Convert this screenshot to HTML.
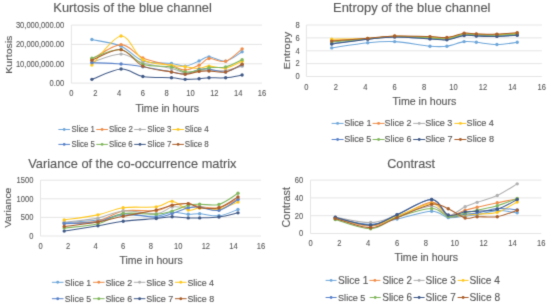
<!DOCTYPE html>
<html><head><meta charset="utf-8"><title>Charts</title>
<style>
html,body{margin:0;padding:0;background:#fff;}
body{width:550px;height:307px;overflow:hidden;}
svg{display:block;}
svg text{font-family:'Liberation Sans', Arial, sans-serif;fill:#595959;stroke:#595959;stroke-width:0.14px;}
svg text.tk{stroke-width:0.1px;}
</style></head><body>
<svg width="550" height="307" viewBox="0 0 550 307">
<defs><filter id="bl" x="0" y="0" width="550" height="307" filterUnits="userSpaceOnUse" color-interpolation-filters="sRGB"><feConvolveMatrix order="3" kernelMatrix="0.0144 0.0912 0.0144 0.0912 0.5776 0.0912 0.0144 0.0912 0.0144" edgeMode="duplicate"/></filter></defs>
<g filter="url(#bl)">
<rect width="550" height="307" fill="#fff"/>
<line x1="71.4" y1="83.1" x2="262" y2="83.1" stroke="#E2E2E2" stroke-width="0.9"/>
<line x1="71.4" y1="63.77" x2="262" y2="63.77" stroke="#E2E2E2" stroke-width="0.9"/>
<line x1="71.4" y1="44.43" x2="262" y2="44.43" stroke="#E2E2E2" stroke-width="0.9"/>
<line x1="71.4" y1="25.1" x2="262" y2="25.1" stroke="#E2E2E2" stroke-width="0.9"/>
<line x1="71.4" y1="25.1" x2="71.4" y2="83.1" stroke="#E2E2E2" stroke-width="0.9"/>
<text x="64.2" y="85.9" font-size="8.4" text-anchor="end" textLength="14.72" lengthAdjust="spacingAndGlyphs" class="tk">0.00</text>
<text x="64.2" y="66.57" font-size="8.4" text-anchor="end" textLength="48.31" lengthAdjust="spacingAndGlyphs" class="tk">10,000,000.00</text>
<text x="64.2" y="47.23" font-size="8.4" text-anchor="end" textLength="48.31" lengthAdjust="spacingAndGlyphs" class="tk">20,000,000.00</text>
<text x="64.2" y="27.9" font-size="8.4" text-anchor="end" textLength="48.31" lengthAdjust="spacingAndGlyphs" class="tk">30,000,000.00</text>
<text x="71.4" y="96.3" font-size="8.4" text-anchor="middle" textLength="4.21" lengthAdjust="spacingAndGlyphs" class="tk">0</text>
<text x="95.23" y="96.3" font-size="8.4" text-anchor="middle" textLength="4.21" lengthAdjust="spacingAndGlyphs" class="tk">2</text>
<text x="119.05" y="96.3" font-size="8.4" text-anchor="middle" textLength="4.21" lengthAdjust="spacingAndGlyphs" class="tk">4</text>
<text x="142.88" y="96.3" font-size="8.4" text-anchor="middle" textLength="4.21" lengthAdjust="spacingAndGlyphs" class="tk">6</text>
<text x="166.7" y="96.3" font-size="8.4" text-anchor="middle" textLength="4.21" lengthAdjust="spacingAndGlyphs" class="tk">8</text>
<text x="190.53" y="96.3" font-size="8.4" text-anchor="middle" textLength="8.41" lengthAdjust="spacingAndGlyphs" class="tk">10</text>
<text x="214.35" y="96.3" font-size="8.4" text-anchor="middle" textLength="8.41" lengthAdjust="spacingAndGlyphs" class="tk">12</text>
<text x="238.18" y="96.3" font-size="8.4" text-anchor="middle" textLength="8.41" lengthAdjust="spacingAndGlyphs" class="tk">14</text>
<text x="262" y="96.3" font-size="8.4" text-anchor="middle" textLength="8.41" lengthAdjust="spacingAndGlyphs" class="tk">16</text>
<text x="53.35" y="12" font-size="11.92" textLength="158.51" lengthAdjust="spacingAndGlyphs">Kurtosis of the blue channel</text>
<text x="135.46" y="111.6" font-size="10.61" textLength="63.52" lengthAdjust="spacingAndGlyphs">Time in hours</text>
<text transform="translate(11.6,73.66) rotate(-90)" font-size="9.88" textLength="38.04" lengthAdjust="spacingAndGlyphs">Kurtosis</text>
<path d="M91.89,39.56 C96.75,40.66 112.58,42.6 121.08,46.15 C129.57,49.71 134.48,58.03 142.88,60.91 C151.27,63.78 164.42,62.55 171.47,63.42 C178.51,64.29 180.56,66.56 185.16,66.14 C189.77,65.73 195.13,62.46 199.1,60.91 C203.07,59.35 204.56,56.79 208.99,56.83 C213.42,56.86 220.15,61.94 225.67,61.1 C231.19,60.26 239.37,53.33 242.11,51.78" fill="none" stroke="#6FA7DA" stroke-width="1.05" stroke-linejoin="round"/>
<circle cx="91.89" cy="39.56" r="1.7" fill="#6FA7DA"/>
<circle cx="121.08" cy="46.15" r="1.7" fill="#6FA7DA"/>
<circle cx="142.88" cy="60.91" r="1.7" fill="#6FA7DA"/>
<circle cx="171.47" cy="63.42" r="1.7" fill="#6FA7DA"/>
<circle cx="185.16" cy="66.14" r="1.7" fill="#6FA7DA"/>
<circle cx="199.1" cy="60.91" r="1.7" fill="#6FA7DA"/>
<circle cx="208.99" cy="56.83" r="1.7" fill="#6FA7DA"/>
<circle cx="225.67" cy="61.1" r="1.7" fill="#6FA7DA"/>
<circle cx="242.11" cy="51.78" r="1.7" fill="#6FA7DA"/>
<path d="M91.89,59.15 C96.75,56.72 112.58,44.8 121.08,44.61 C129.57,44.41 134.48,54.5 142.88,57.99 C151.27,61.48 164.42,63.54 171.47,65.55 C178.51,67.55 180.56,70.08 185.16,70.01 C189.77,69.95 195.13,67.07 199.1,65.16 C203.07,63.25 204.56,59.21 208.99,58.57 C213.42,57.92 220.15,62.91 225.67,61.29 C231.19,59.67 239.37,50.93 242.11,48.86" fill="none" stroke="#EF8D4A" stroke-width="1.05" stroke-linejoin="round"/>
<circle cx="91.89" cy="59.15" r="1.7" fill="#EF8D4A"/>
<circle cx="121.08" cy="44.61" r="1.7" fill="#EF8D4A"/>
<circle cx="142.88" cy="57.99" r="1.7" fill="#EF8D4A"/>
<circle cx="171.47" cy="65.55" r="1.7" fill="#EF8D4A"/>
<circle cx="185.16" cy="70.01" r="1.7" fill="#EF8D4A"/>
<circle cx="199.1" cy="65.16" r="1.7" fill="#EF8D4A"/>
<circle cx="208.99" cy="58.57" r="1.7" fill="#EF8D4A"/>
<circle cx="225.67" cy="61.29" r="1.7" fill="#EF8D4A"/>
<circle cx="242.11" cy="48.86" r="1.7" fill="#EF8D4A"/>
<path d="M91.89,62.26 C96.75,60.9 112.58,53.97 121.08,54.1 C129.57,54.23 134.48,60.64 142.88,63.03 C151.27,65.43 164.42,66.81 171.47,68.46 C178.51,70.11 180.56,72.61 185.16,72.93 C189.77,73.25 195.13,70.82 199.1,70.4 C203.07,69.98 204.56,70.4 208.99,70.4 C213.42,70.4 220.15,71.11 225.67,70.4 C231.19,69.69 239.37,66.85 242.11,66.14" fill="none" stroke="#B0B0B0" stroke-width="1.05" stroke-linejoin="round"/>
<circle cx="91.89" cy="62.26" r="1.7" fill="#B0B0B0"/>
<circle cx="121.08" cy="54.1" r="1.7" fill="#B0B0B0"/>
<circle cx="142.88" cy="63.03" r="1.7" fill="#B0B0B0"/>
<circle cx="171.47" cy="68.46" r="1.7" fill="#B0B0B0"/>
<circle cx="185.16" cy="72.93" r="1.7" fill="#B0B0B0"/>
<circle cx="199.1" cy="70.4" r="1.7" fill="#B0B0B0"/>
<circle cx="208.99" cy="70.4" r="1.7" fill="#B0B0B0"/>
<circle cx="225.67" cy="70.4" r="1.7" fill="#B0B0B0"/>
<circle cx="242.11" cy="66.14" r="1.7" fill="#B0B0B0"/>
<path d="M91.89,64.97 C96.75,60.15 112.58,36.94 121.08,36.06 C129.57,35.19 134.48,54.88 142.88,59.73 C151.27,64.58 164.42,63.99 171.47,65.16 C178.51,66.33 180.56,66.17 185.16,66.72 C189.77,67.28 195.13,68.56 199.1,68.46 C203.07,68.37 204.56,66.21 208.99,66.14 C213.42,66.08 220.15,68.89 225.67,68.08 C231.19,67.27 239.37,62.42 242.11,61.29" fill="none" stroke="#FFC81F" stroke-width="1.05" stroke-linejoin="round"/>
<circle cx="91.89" cy="64.97" r="1.7" fill="#FFC81F"/>
<circle cx="121.08" cy="36.06" r="1.7" fill="#FFC81F"/>
<circle cx="142.88" cy="59.73" r="1.7" fill="#FFC81F"/>
<circle cx="171.47" cy="65.16" r="1.7" fill="#FFC81F"/>
<circle cx="185.16" cy="66.72" r="1.7" fill="#FFC81F"/>
<circle cx="199.1" cy="68.46" r="1.7" fill="#FFC81F"/>
<circle cx="208.99" cy="66.14" r="1.7" fill="#FFC81F"/>
<circle cx="225.67" cy="68.08" r="1.7" fill="#FFC81F"/>
<circle cx="242.11" cy="61.29" r="1.7" fill="#FFC81F"/>
<path d="M91.89,62.65 C96.75,62.87 112.58,63.32 121.08,64 C129.57,64.68 134.48,65.4 142.88,66.72 C151.27,68.05 164.42,70.77 171.47,71.96 C178.51,73.16 180.56,74.32 185.16,73.9 C189.77,73.48 195.13,70.24 199.1,69.43 C203.07,68.62 204.56,68.62 208.99,69.04 C213.42,69.47 220.15,72.68 225.67,71.96 C231.19,71.25 239.37,65.97 242.11,64.77" fill="none" stroke="#5A83CB" stroke-width="1.05" stroke-linejoin="round"/>
<circle cx="91.89" cy="62.65" r="1.7" fill="#5A83CB"/>
<circle cx="121.08" cy="64" r="1.7" fill="#5A83CB"/>
<circle cx="142.88" cy="66.72" r="1.7" fill="#5A83CB"/>
<circle cx="171.47" cy="71.96" r="1.7" fill="#5A83CB"/>
<circle cx="185.16" cy="73.9" r="1.7" fill="#5A83CB"/>
<circle cx="199.1" cy="69.43" r="1.7" fill="#5A83CB"/>
<circle cx="208.99" cy="69.04" r="1.7" fill="#5A83CB"/>
<circle cx="225.67" cy="71.96" r="1.7" fill="#5A83CB"/>
<circle cx="242.11" cy="64.77" r="1.7" fill="#5A83CB"/>
<path d="M91.89,58.18 C96.75,56.76 112.58,48.65 121.08,49.65 C129.57,50.66 134.48,61.31 142.88,64.19 C151.27,67.07 164.42,65.62 171.47,66.92 C178.51,68.21 180.56,71.38 185.16,71.96 C189.77,72.54 195.13,71.11 199.1,70.4 C203.07,69.69 204.56,68.27 208.99,67.69 C213.42,67.11 220.15,68.25 225.67,66.92 C231.19,65.59 239.37,60.92 242.11,59.73" fill="none" stroke="#81B75D" stroke-width="1.05" stroke-linejoin="round"/>
<circle cx="91.89" cy="58.18" r="1.7" fill="#81B75D"/>
<circle cx="121.08" cy="49.65" r="1.7" fill="#81B75D"/>
<circle cx="142.88" cy="64.19" r="1.7" fill="#81B75D"/>
<circle cx="171.47" cy="66.92" r="1.7" fill="#81B75D"/>
<circle cx="185.16" cy="71.96" r="1.7" fill="#81B75D"/>
<circle cx="199.1" cy="70.4" r="1.7" fill="#81B75D"/>
<circle cx="208.99" cy="67.69" r="1.7" fill="#81B75D"/>
<circle cx="225.67" cy="66.92" r="1.7" fill="#81B75D"/>
<circle cx="242.11" cy="59.73" r="1.7" fill="#81B75D"/>
<path d="M91.89,79.33 C96.75,77.62 112.58,69.53 121.08,69.04 C129.57,68.56 134.48,74.97 142.88,76.43 C151.27,77.89 164.42,77.3 171.47,77.78 C178.51,78.27 180.56,79.17 185.16,79.33 C189.77,79.49 195.13,79.01 199.1,78.75 C203.07,78.49 204.56,77.94 208.99,77.78 C213.42,77.62 220.15,78.24 225.67,77.78 C231.19,77.33 239.37,75.51 242.11,75.06" fill="none" stroke="#405A88" stroke-width="1.05" stroke-linejoin="round"/>
<circle cx="91.89" cy="79.33" r="1.7" fill="#405A88"/>
<circle cx="121.08" cy="69.04" r="1.7" fill="#405A88"/>
<circle cx="142.88" cy="76.43" r="1.7" fill="#405A88"/>
<circle cx="171.47" cy="77.78" r="1.7" fill="#405A88"/>
<circle cx="185.16" cy="79.33" r="1.7" fill="#405A88"/>
<circle cx="199.1" cy="78.75" r="1.7" fill="#405A88"/>
<circle cx="208.99" cy="77.78" r="1.7" fill="#405A88"/>
<circle cx="225.67" cy="77.78" r="1.7" fill="#405A88"/>
<circle cx="242.11" cy="75.06" r="1.7" fill="#405A88"/>
<path d="M91.89,60.33 C96.75,58.55 112.58,48.68 121.08,49.65 C129.57,50.62 134.48,62.43 142.88,66.14 C151.27,69.86 164.42,70.61 171.47,71.96 C178.51,73.32 180.56,74.38 185.16,74.28 C189.77,74.19 195.13,71.93 199.1,71.38 C203.07,70.84 204.56,70.9 208.99,71 C213.42,71.09 220.15,73.1 225.67,71.96 C231.19,70.83 239.37,65.49 242.11,64.19" fill="none" stroke="#AA5E2B" stroke-width="1.05" stroke-linejoin="round"/>
<circle cx="91.89" cy="60.33" r="1.7" fill="#AA5E2B"/>
<circle cx="121.08" cy="49.65" r="1.7" fill="#AA5E2B"/>
<circle cx="142.88" cy="66.14" r="1.7" fill="#AA5E2B"/>
<circle cx="171.47" cy="71.96" r="1.7" fill="#AA5E2B"/>
<circle cx="185.16" cy="74.28" r="1.7" fill="#AA5E2B"/>
<circle cx="199.1" cy="71.38" r="1.7" fill="#AA5E2B"/>
<circle cx="208.99" cy="71" r="1.7" fill="#AA5E2B"/>
<circle cx="225.67" cy="71.96" r="1.7" fill="#AA5E2B"/>
<circle cx="242.11" cy="64.19" r="1.7" fill="#AA5E2B"/>
<line x1="58.4" y1="129.5" x2="70" y2="129.5" stroke="#6FA7DA" stroke-width="1.0"/>
<circle cx="64.2" cy="129.5" r="1.4" fill="#6FA7DA"/>
<text x="71.45" y="132.2" font-size="8.14" textLength="23.44" lengthAdjust="spacingAndGlyphs">Slice 1</text>
<line x1="96.3" y1="129.5" x2="107.9" y2="129.5" stroke="#EF8D4A" stroke-width="1.0"/>
<circle cx="102.1" cy="129.5" r="1.4" fill="#EF8D4A"/>
<text x="109.04" y="132.2" font-size="8.14" textLength="23.76" lengthAdjust="spacingAndGlyphs">Slice 2</text>
<line x1="134.2" y1="129.5" x2="145.8" y2="129.5" stroke="#B0B0B0" stroke-width="1.0"/>
<circle cx="140" cy="129.5" r="1.4" fill="#B0B0B0"/>
<text x="147.24" y="132.2" font-size="8.14" textLength="24.12" lengthAdjust="spacingAndGlyphs">Slice 3</text>
<line x1="172.3" y1="129.5" x2="183.9" y2="129.5" stroke="#FFC81F" stroke-width="1.0"/>
<circle cx="178.1" cy="129.5" r="1.4" fill="#FFC81F"/>
<text x="184.84" y="132.2" font-size="8.14" textLength="23.79" lengthAdjust="spacingAndGlyphs">Slice 4</text>
<line x1="58.4" y1="144.4" x2="70" y2="144.4" stroke="#5A83CB" stroke-width="1.0"/>
<circle cx="64.2" cy="144.4" r="1.4" fill="#5A83CB"/>
<text x="71.45" y="146.6" font-size="8.14" textLength="23.38" lengthAdjust="spacingAndGlyphs">Slice 5</text>
<line x1="96.3" y1="144.4" x2="107.9" y2="144.4" stroke="#81B75D" stroke-width="1.0"/>
<circle cx="102.1" cy="144.4" r="1.4" fill="#81B75D"/>
<text x="109.04" y="146.6" font-size="8.14" textLength="23.71" lengthAdjust="spacingAndGlyphs">Slice 6</text>
<line x1="134.2" y1="144.4" x2="145.8" y2="144.4" stroke="#405A88" stroke-width="1.0"/>
<circle cx="140" cy="144.4" r="1.4" fill="#405A88"/>
<text x="147.23" y="146.6" font-size="8.14" textLength="24.17" lengthAdjust="spacingAndGlyphs">Slice 7</text>
<line x1="172.3" y1="144.4" x2="183.9" y2="144.4" stroke="#AA5E2B" stroke-width="1.0"/>
<circle cx="178.1" cy="144.4" r="1.4" fill="#AA5E2B"/>
<text x="184.84" y="146.6" font-size="8.14" textLength="23.91" lengthAdjust="spacingAndGlyphs">Slice 8</text>
<line x1="306.4" y1="76.5" x2="541.8" y2="76.5" stroke="#E2E2E2" stroke-width="0.9"/>
<line x1="306.4" y1="63.62" x2="541.8" y2="63.62" stroke="#E2E2E2" stroke-width="0.9"/>
<line x1="306.4" y1="50.75" x2="541.8" y2="50.75" stroke="#E2E2E2" stroke-width="0.9"/>
<line x1="306.4" y1="37.88" x2="541.8" y2="37.88" stroke="#E2E2E2" stroke-width="0.9"/>
<line x1="306.4" y1="25" x2="541.8" y2="25" stroke="#E2E2E2" stroke-width="0.9"/>
<line x1="306.4" y1="25" x2="306.4" y2="76.5" stroke="#E2E2E2" stroke-width="0.9"/>
<text x="299.6" y="79.3" font-size="8.4" text-anchor="end" textLength="4.21" lengthAdjust="spacingAndGlyphs" class="tk">0</text>
<text x="299.6" y="66.42" font-size="8.4" text-anchor="end" textLength="4.21" lengthAdjust="spacingAndGlyphs" class="tk">2</text>
<text x="299.6" y="53.55" font-size="8.4" text-anchor="end" textLength="4.21" lengthAdjust="spacingAndGlyphs" class="tk">4</text>
<text x="299.6" y="40.67" font-size="8.4" text-anchor="end" textLength="4.21" lengthAdjust="spacingAndGlyphs" class="tk">6</text>
<text x="299.6" y="27.8" font-size="8.4" text-anchor="end" textLength="4.21" lengthAdjust="spacingAndGlyphs" class="tk">8</text>
<text x="306.4" y="89.5" font-size="8.4" text-anchor="middle" textLength="4.21" lengthAdjust="spacingAndGlyphs" class="tk">0</text>
<text x="335.82" y="89.5" font-size="8.4" text-anchor="middle" textLength="4.21" lengthAdjust="spacingAndGlyphs" class="tk">2</text>
<text x="365.25" y="89.5" font-size="8.4" text-anchor="middle" textLength="4.21" lengthAdjust="spacingAndGlyphs" class="tk">4</text>
<text x="394.67" y="89.5" font-size="8.4" text-anchor="middle" textLength="4.21" lengthAdjust="spacingAndGlyphs" class="tk">6</text>
<text x="424.1" y="89.5" font-size="8.4" text-anchor="middle" textLength="4.21" lengthAdjust="spacingAndGlyphs" class="tk">8</text>
<text x="453.52" y="89.5" font-size="8.4" text-anchor="middle" textLength="8.41" lengthAdjust="spacingAndGlyphs" class="tk">10</text>
<text x="482.95" y="89.5" font-size="8.4" text-anchor="middle" textLength="8.41" lengthAdjust="spacingAndGlyphs" class="tk">12</text>
<text x="512.38" y="89.5" font-size="8.4" text-anchor="middle" textLength="8.41" lengthAdjust="spacingAndGlyphs" class="tk">14</text>
<text x="541.8" y="89.5" font-size="8.4" text-anchor="middle" textLength="8.41" lengthAdjust="spacingAndGlyphs" class="tk">16</text>
<text x="333.04" y="12" font-size="11.92" textLength="157.43" lengthAdjust="spacingAndGlyphs">Entropy of the blue channel</text>
<text x="392.46" y="104.5" font-size="10.76" textLength="63.92" lengthAdjust="spacingAndGlyphs">Time in hours</text>
<text transform="translate(289.7,69.4) rotate(-90)" font-size="9.59" textLength="37.62" lengthAdjust="spacingAndGlyphs">Entropy</text>
<path d="M331.71,47.92 C337.71,47.05 357.26,43.75 367.75,42.7 C378.25,41.65 384.3,41.03 394.67,41.61 C405.05,42.19 421.28,45.42 429.98,46.18 C438.69,46.94 441.22,46.94 446.9,46.18 C452.59,45.42 459.21,42.25 464.12,41.61 C469.02,40.97 470.86,41.82 476.33,42.32 C481.8,42.81 490.11,44.57 496.93,44.57 C503.74,44.57 513.85,42.69 517.23,42.32" fill="none" stroke="#6FA7DA" stroke-width="1.05" stroke-linejoin="round"/>
<circle cx="331.71" cy="47.92" r="1.7" fill="#6FA7DA"/>
<circle cx="367.75" cy="42.7" r="1.7" fill="#6FA7DA"/>
<circle cx="394.67" cy="41.61" r="1.7" fill="#6FA7DA"/>
<circle cx="429.98" cy="46.18" r="1.7" fill="#6FA7DA"/>
<circle cx="446.9" cy="46.18" r="1.7" fill="#6FA7DA"/>
<circle cx="464.12" cy="41.61" r="1.7" fill="#6FA7DA"/>
<circle cx="476.33" cy="42.32" r="1.7" fill="#6FA7DA"/>
<circle cx="496.93" cy="44.57" r="1.7" fill="#6FA7DA"/>
<circle cx="517.23" cy="42.32" r="1.7" fill="#6FA7DA"/>
<path d="M331.71,40.45 C337.71,40.13 357.26,39.22 367.75,38.52 C378.25,37.82 384.3,36.53 394.67,36.27 C405.05,36 421.28,36.64 429.98,36.91 C438.69,37.18 441.22,38.41 446.9,37.88 C452.59,37.34 459.21,34.3 464.12,33.69 C469.02,33.08 470.86,34.07 476.33,34.21 C481.8,34.35 490.11,34.69 496.93,34.53 C503.74,34.37 513.85,33.45 517.23,33.24" fill="none" stroke="#EF8D4A" stroke-width="1.05" stroke-linejoin="round"/>
<circle cx="331.71" cy="40.45" r="1.7" fill="#EF8D4A"/>
<circle cx="367.75" cy="38.52" r="1.7" fill="#EF8D4A"/>
<circle cx="394.67" cy="36.27" r="1.7" fill="#EF8D4A"/>
<circle cx="429.98" cy="36.91" r="1.7" fill="#EF8D4A"/>
<circle cx="446.9" cy="37.88" r="1.7" fill="#EF8D4A"/>
<circle cx="464.12" cy="33.69" r="1.7" fill="#EF8D4A"/>
<circle cx="476.33" cy="34.21" r="1.7" fill="#EF8D4A"/>
<circle cx="496.93" cy="34.53" r="1.7" fill="#EF8D4A"/>
<circle cx="517.23" cy="33.24" r="1.7" fill="#EF8D4A"/>
<path d="M331.71,41.42 C337.71,40.99 357.26,39.65 367.75,38.84 C378.25,38.04 384.3,36.77 394.67,36.59 C405.05,36.41 421.28,37.4 429.98,37.75 C438.69,38.09 441.22,39.22 446.9,38.65 C452.59,38.08 459.21,34.97 464.12,34.33 C469.02,33.7 470.86,34.71 476.33,34.85 C481.8,34.99 490.11,35.31 496.93,35.17 C503.74,35.03 513.85,34.21 517.23,34.01" fill="none" stroke="#B0B0B0" stroke-width="1.05" stroke-linejoin="round"/>
<circle cx="331.71" cy="41.42" r="1.7" fill="#B0B0B0"/>
<circle cx="367.75" cy="38.84" r="1.7" fill="#B0B0B0"/>
<circle cx="394.67" cy="36.59" r="1.7" fill="#B0B0B0"/>
<circle cx="429.98" cy="37.75" r="1.7" fill="#B0B0B0"/>
<circle cx="446.9" cy="38.65" r="1.7" fill="#B0B0B0"/>
<circle cx="464.12" cy="34.33" r="1.7" fill="#B0B0B0"/>
<circle cx="476.33" cy="34.85" r="1.7" fill="#B0B0B0"/>
<circle cx="496.93" cy="35.17" r="1.7" fill="#B0B0B0"/>
<circle cx="517.23" cy="34.01" r="1.7" fill="#B0B0B0"/>
<path d="M331.71,39.16 C337.71,39.06 357.26,39 367.75,38.52 C378.25,38.04 384.3,36.48 394.67,36.27 C405.05,36.05 421.28,36.91 429.98,37.23 C438.69,37.55 441.22,38.75 446.9,38.2 C452.59,37.64 459.21,34.53 464.12,33.88 C469.02,33.24 470.86,34.21 476.33,34.33 C481.8,34.46 490.11,34.8 496.93,34.66 C503.74,34.52 513.85,33.69 517.23,33.5" fill="none" stroke="#FFC81F" stroke-width="1.05" stroke-linejoin="round"/>
<circle cx="331.71" cy="39.16" r="1.7" fill="#FFC81F"/>
<circle cx="367.75" cy="38.52" r="1.7" fill="#FFC81F"/>
<circle cx="394.67" cy="36.27" r="1.7" fill="#FFC81F"/>
<circle cx="429.98" cy="37.23" r="1.7" fill="#FFC81F"/>
<circle cx="446.9" cy="38.2" r="1.7" fill="#FFC81F"/>
<circle cx="464.12" cy="33.88" r="1.7" fill="#FFC81F"/>
<circle cx="476.33" cy="34.33" r="1.7" fill="#FFC81F"/>
<circle cx="496.93" cy="34.66" r="1.7" fill="#FFC81F"/>
<circle cx="517.23" cy="33.5" r="1.7" fill="#FFC81F"/>
<path d="M331.71,43.67 C337.71,42.92 357.26,40.29 367.75,39.16 C378.25,38.04 384.3,37 394.67,36.91 C405.05,36.82 421.28,38.21 429.98,38.65 C438.69,39.09 441.22,40.13 446.9,39.55 C452.59,38.97 459.21,35.81 464.12,35.17 C469.02,34.53 470.86,35.54 476.33,35.69 C481.8,35.84 490.11,36.19 496.93,36.07 C503.74,35.95 513.85,35.16 517.23,34.98" fill="none" stroke="#5A83CB" stroke-width="1.05" stroke-linejoin="round"/>
<circle cx="331.71" cy="43.67" r="1.7" fill="#5A83CB"/>
<circle cx="367.75" cy="39.16" r="1.7" fill="#5A83CB"/>
<circle cx="394.67" cy="36.91" r="1.7" fill="#5A83CB"/>
<circle cx="429.98" cy="38.65" r="1.7" fill="#5A83CB"/>
<circle cx="446.9" cy="39.55" r="1.7" fill="#5A83CB"/>
<circle cx="464.12" cy="35.17" r="1.7" fill="#5A83CB"/>
<circle cx="476.33" cy="35.69" r="1.7" fill="#5A83CB"/>
<circle cx="496.93" cy="36.07" r="1.7" fill="#5A83CB"/>
<circle cx="517.23" cy="34.98" r="1.7" fill="#5A83CB"/>
<path d="M331.71,42.06 C337.71,41.52 357.26,39.75 367.75,38.84 C378.25,37.93 384.3,36.75 394.67,36.59 C405.05,36.43 421.28,37.5 429.98,37.88 C438.69,38.25 441.22,39.43 446.9,38.84 C452.59,38.25 459.21,35 464.12,34.33 C469.02,33.67 470.86,34.71 476.33,34.85 C481.8,34.99 490.11,35.31 496.93,35.17 C503.74,35.03 513.85,34.21 517.23,34.01" fill="none" stroke="#81B75D" stroke-width="1.05" stroke-linejoin="round"/>
<circle cx="331.71" cy="42.06" r="1.7" fill="#81B75D"/>
<circle cx="367.75" cy="38.84" r="1.7" fill="#81B75D"/>
<circle cx="394.67" cy="36.59" r="1.7" fill="#81B75D"/>
<circle cx="429.98" cy="37.88" r="1.7" fill="#81B75D"/>
<circle cx="446.9" cy="38.84" r="1.7" fill="#81B75D"/>
<circle cx="464.12" cy="34.33" r="1.7" fill="#81B75D"/>
<circle cx="476.33" cy="34.85" r="1.7" fill="#81B75D"/>
<circle cx="496.93" cy="35.17" r="1.7" fill="#81B75D"/>
<circle cx="517.23" cy="34.01" r="1.7" fill="#81B75D"/>
<path d="M331.71,43.99 C337.71,43.19 357.26,40.34 367.75,39.16 C378.25,37.98 384.3,36.95 394.67,36.91 C405.05,36.87 421.28,38.42 429.98,38.91 C438.69,39.39 441.22,40.37 446.9,39.81 C452.59,39.24 459.21,36.13 464.12,35.49 C469.02,34.86 470.86,35.86 476.33,36.01 C481.8,36.16 490.11,36.51 496.93,36.39 C503.74,36.28 513.85,35.48 517.23,35.3" fill="none" stroke="#405A88" stroke-width="1.05" stroke-linejoin="round"/>
<circle cx="331.71" cy="43.99" r="1.7" fill="#405A88"/>
<circle cx="367.75" cy="39.16" r="1.7" fill="#405A88"/>
<circle cx="394.67" cy="36.91" r="1.7" fill="#405A88"/>
<circle cx="429.98" cy="38.91" r="1.7" fill="#405A88"/>
<circle cx="446.9" cy="39.81" r="1.7" fill="#405A88"/>
<circle cx="464.12" cy="35.49" r="1.7" fill="#405A88"/>
<circle cx="476.33" cy="36.01" r="1.7" fill="#405A88"/>
<circle cx="496.93" cy="36.39" r="1.7" fill="#405A88"/>
<circle cx="517.23" cy="35.3" r="1.7" fill="#405A88"/>
<path d="M331.71,41.09 C337.71,40.63 357.26,39.16 367.75,38.33 C378.25,37.49 384.3,36.36 394.67,36.07 C405.05,35.78 421.28,36.35 429.98,36.59 C438.69,36.82 441.22,38.05 446.9,37.49 C452.59,36.93 459.21,33.84 464.12,33.24 C469.02,32.64 470.86,33.73 476.33,33.88 C481.8,34.03 490.11,34.33 496.93,34.14 C503.74,33.95 513.85,32.96 517.23,32.73" fill="none" stroke="#AA5E2B" stroke-width="1.05" stroke-linejoin="round"/>
<circle cx="331.71" cy="41.09" r="1.7" fill="#AA5E2B"/>
<circle cx="367.75" cy="38.33" r="1.7" fill="#AA5E2B"/>
<circle cx="394.67" cy="36.07" r="1.7" fill="#AA5E2B"/>
<circle cx="429.98" cy="36.59" r="1.7" fill="#AA5E2B"/>
<circle cx="446.9" cy="37.49" r="1.7" fill="#AA5E2B"/>
<circle cx="464.12" cy="33.24" r="1.7" fill="#AA5E2B"/>
<circle cx="476.33" cy="33.88" r="1.7" fill="#AA5E2B"/>
<circle cx="496.93" cy="34.14" r="1.7" fill="#AA5E2B"/>
<circle cx="517.23" cy="32.73" r="1.7" fill="#AA5E2B"/>
<line x1="331.6" y1="123.4" x2="343.6" y2="123.4" stroke="#6FA7DA" stroke-width="1.0"/>
<circle cx="337.6" cy="123.4" r="1.45" fill="#6FA7DA"/>
<text x="344.19" y="126.3" font-size="9.01" textLength="27.26" lengthAdjust="spacingAndGlyphs">Slice 1</text>
<line x1="372.6" y1="123.4" x2="384.6" y2="123.4" stroke="#EF8D4A" stroke-width="1.0"/>
<circle cx="378.6" cy="123.4" r="1.45" fill="#EF8D4A"/>
<text x="384.59" y="126.3" font-size="9.01" textLength="27.06" lengthAdjust="spacingAndGlyphs">Slice 2</text>
<line x1="413.2" y1="123.4" x2="425.2" y2="123.4" stroke="#B0B0B0" stroke-width="1.0"/>
<circle cx="419.2" cy="123.4" r="1.45" fill="#B0B0B0"/>
<text x="425.19" y="126.3" font-size="9.01" textLength="27.21" lengthAdjust="spacingAndGlyphs">Slice 3</text>
<line x1="454.4" y1="123.4" x2="466.4" y2="123.4" stroke="#FFC81F" stroke-width="1.0"/>
<circle cx="460.4" cy="123.4" r="1.45" fill="#FFC81F"/>
<text x="466.59" y="126.3" font-size="9.01" textLength="27.28" lengthAdjust="spacingAndGlyphs">Slice 4</text>
<line x1="331.6" y1="139.5" x2="343.6" y2="139.5" stroke="#5A83CB" stroke-width="1.0"/>
<circle cx="337.6" cy="139.5" r="1.45" fill="#5A83CB"/>
<text x="344.19" y="142.3" font-size="9.01" textLength="27.19" lengthAdjust="spacingAndGlyphs">Slice 5</text>
<line x1="372.6" y1="139.5" x2="384.6" y2="139.5" stroke="#81B75D" stroke-width="1.0"/>
<circle cx="378.6" cy="139.5" r="1.45" fill="#81B75D"/>
<text x="384.59" y="142.3" font-size="9.01" textLength="27" lengthAdjust="spacingAndGlyphs">Slice 6</text>
<line x1="413.2" y1="139.5" x2="425.2" y2="139.5" stroke="#405A88" stroke-width="1.0"/>
<circle cx="419.2" cy="139.5" r="1.45" fill="#405A88"/>
<text x="425.19" y="142.3" font-size="9.01" textLength="27.27" lengthAdjust="spacingAndGlyphs">Slice 7</text>
<line x1="454.4" y1="139.5" x2="466.4" y2="139.5" stroke="#AA5E2B" stroke-width="1.0"/>
<circle cx="460.4" cy="139.5" r="1.45" fill="#AA5E2B"/>
<text x="466.59" y="142.3" font-size="9.01" textLength="27.41" lengthAdjust="spacingAndGlyphs">Slice 8</text>
<line x1="40.5" y1="236" x2="261" y2="236" stroke="#E2E2E2" stroke-width="0.9"/>
<line x1="40.5" y1="217.4" x2="261" y2="217.4" stroke="#E2E2E2" stroke-width="0.9"/>
<line x1="40.5" y1="198.8" x2="261" y2="198.8" stroke="#E2E2E2" stroke-width="0.9"/>
<line x1="40.5" y1="180.2" x2="261" y2="180.2" stroke="#E2E2E2" stroke-width="0.9"/>
<line x1="40.5" y1="180.2" x2="40.5" y2="236" stroke="#E2E2E2" stroke-width="0.9"/>
<text x="33.4" y="238.8" font-size="8.4" text-anchor="end" textLength="4.21" lengthAdjust="spacingAndGlyphs" class="tk">0</text>
<text x="33.4" y="220.2" font-size="8.4" text-anchor="end" textLength="12.62" lengthAdjust="spacingAndGlyphs" class="tk">500</text>
<text x="33.4" y="201.6" font-size="8.4" text-anchor="end" textLength="16.83" lengthAdjust="spacingAndGlyphs" class="tk">1000</text>
<text x="33.4" y="183" font-size="8.4" text-anchor="end" textLength="16.83" lengthAdjust="spacingAndGlyphs" class="tk">1500</text>
<text x="40.5" y="248.8" font-size="8.4" text-anchor="middle" textLength="4.21" lengthAdjust="spacingAndGlyphs" class="tk">0</text>
<text x="68.06" y="248.8" font-size="8.4" text-anchor="middle" textLength="4.21" lengthAdjust="spacingAndGlyphs" class="tk">2</text>
<text x="95.62" y="248.8" font-size="8.4" text-anchor="middle" textLength="4.21" lengthAdjust="spacingAndGlyphs" class="tk">4</text>
<text x="123.19" y="248.8" font-size="8.4" text-anchor="middle" textLength="4.21" lengthAdjust="spacingAndGlyphs" class="tk">6</text>
<text x="150.75" y="248.8" font-size="8.4" text-anchor="middle" textLength="4.21" lengthAdjust="spacingAndGlyphs" class="tk">8</text>
<text x="178.31" y="248.8" font-size="8.4" text-anchor="middle" textLength="8.41" lengthAdjust="spacingAndGlyphs" class="tk">10</text>
<text x="205.88" y="248.8" font-size="8.4" text-anchor="middle" textLength="8.41" lengthAdjust="spacingAndGlyphs" class="tk">12</text>
<text x="233.44" y="248.8" font-size="8.4" text-anchor="middle" textLength="8.41" lengthAdjust="spacingAndGlyphs" class="tk">14</text>
<text x="261" y="248.8" font-size="8.4" text-anchor="middle" textLength="8.41" lengthAdjust="spacingAndGlyphs" class="tk">16</text>
<text x="28.24" y="167.5" font-size="11.92" textLength="208.29" lengthAdjust="spacingAndGlyphs">Variance of the co-occurrence matrix</text>
<text x="119.46" y="263.9" font-size="10.76" textLength="63.22" lengthAdjust="spacingAndGlyphs">Time in hours</text>
<text transform="translate(11.4,227.85) rotate(-90)" font-size="9.88" textLength="40.21" lengthAdjust="spacingAndGlyphs">Variance</text>
<path d="M64.2,222.61 C69.83,222.17 88.14,221.24 97.97,220 C107.8,218.76 113.47,215.8 123.19,215.17 C132.9,214.54 148.11,216.71 156.26,216.21 C164.42,215.71 166.78,212.51 172.11,212.19 C177.44,211.87 183.64,214.03 188.24,214.28 C192.83,214.52 194.55,213.43 199.67,213.68 C204.8,213.93 212.58,216.51 218.97,215.8 C225.35,215.09 234.82,210.5 237.99,209.44" fill="none" stroke="#6FA7DA" stroke-width="1.05" stroke-linejoin="round"/>
<circle cx="64.2" cy="222.61" r="1.7" fill="#6FA7DA"/>
<circle cx="97.97" cy="220" r="1.7" fill="#6FA7DA"/>
<circle cx="123.19" cy="215.17" r="1.7" fill="#6FA7DA"/>
<circle cx="156.26" cy="216.21" r="1.7" fill="#6FA7DA"/>
<circle cx="172.11" cy="212.19" r="1.7" fill="#6FA7DA"/>
<circle cx="188.24" cy="214.28" r="1.7" fill="#6FA7DA"/>
<circle cx="199.67" cy="213.68" r="1.7" fill="#6FA7DA"/>
<circle cx="218.97" cy="215.8" r="1.7" fill="#6FA7DA"/>
<circle cx="237.99" cy="209.44" r="1.7" fill="#6FA7DA"/>
<path d="M64.2,223.72 C69.83,223.29 88.14,223.25 97.97,221.12 C107.8,218.99 113.47,212.7 123.19,210.96 C132.9,209.23 148.11,211.68 156.26,210.7 C164.42,209.73 166.78,206.3 172.11,205.12 C177.44,203.95 183.64,203.39 188.24,203.64 C192.83,203.88 194.55,205.93 199.67,206.61 C204.8,207.29 212.58,209.03 218.97,207.73 C225.35,206.43 234.82,200.29 237.99,198.8" fill="none" stroke="#EF8D4A" stroke-width="1.05" stroke-linejoin="round"/>
<circle cx="64.2" cy="223.72" r="1.7" fill="#EF8D4A"/>
<circle cx="97.97" cy="221.12" r="1.7" fill="#EF8D4A"/>
<circle cx="123.19" cy="210.96" r="1.7" fill="#EF8D4A"/>
<circle cx="156.26" cy="210.7" r="1.7" fill="#EF8D4A"/>
<circle cx="172.11" cy="205.12" r="1.7" fill="#EF8D4A"/>
<circle cx="188.24" cy="203.64" r="1.7" fill="#EF8D4A"/>
<circle cx="199.67" cy="206.61" r="1.7" fill="#EF8D4A"/>
<circle cx="218.97" cy="207.73" r="1.7" fill="#EF8D4A"/>
<circle cx="237.99" cy="198.8" r="1.7" fill="#EF8D4A"/>
<path d="M64.2,222.24 C69.83,221.55 88.14,219.99 97.97,218.11 C107.8,216.23 113.47,211.7 123.19,210.96 C132.9,210.23 148.11,214.33 156.26,213.68 C164.42,213.03 166.78,208.05 172.11,207.06 C177.44,206.07 183.64,207.8 188.24,207.73 C192.83,207.65 194.55,206.24 199.67,206.61 C204.8,206.98 212.58,211.14 218.97,209.96 C225.35,208.78 234.82,201.28 237.99,199.54" fill="none" stroke="#B0B0B0" stroke-width="1.05" stroke-linejoin="round"/>
<circle cx="64.2" cy="222.24" r="1.7" fill="#B0B0B0"/>
<circle cx="97.97" cy="218.11" r="1.7" fill="#B0B0B0"/>
<circle cx="123.19" cy="210.96" r="1.7" fill="#B0B0B0"/>
<circle cx="156.26" cy="213.68" r="1.7" fill="#B0B0B0"/>
<circle cx="172.11" cy="207.06" r="1.7" fill="#B0B0B0"/>
<circle cx="188.24" cy="207.73" r="1.7" fill="#B0B0B0"/>
<circle cx="199.67" cy="206.61" r="1.7" fill="#B0B0B0"/>
<circle cx="218.97" cy="209.96" r="1.7" fill="#B0B0B0"/>
<circle cx="237.99" cy="199.54" r="1.7" fill="#B0B0B0"/>
<path d="M64.2,219.93 C69.83,219.09 88.14,216.92 97.97,214.87 C107.8,212.82 113.47,208.99 123.19,207.65 C132.9,206.31 148.11,207.89 156.26,206.84 C164.42,205.78 166.78,200.81 172.11,201.33 C177.44,201.85 183.64,208.84 188.24,209.96 C192.83,211.08 194.55,208.23 199.67,208.06 C204.8,207.9 212.58,209.95 218.97,208.96 C225.35,207.96 234.82,203.25 237.99,202.11" fill="none" stroke="#FFC81F" stroke-width="1.05" stroke-linejoin="round"/>
<circle cx="64.2" cy="219.93" r="1.7" fill="#FFC81F"/>
<circle cx="97.97" cy="214.87" r="1.7" fill="#FFC81F"/>
<circle cx="123.19" cy="207.65" r="1.7" fill="#FFC81F"/>
<circle cx="156.26" cy="206.84" r="1.7" fill="#FFC81F"/>
<circle cx="172.11" cy="201.33" r="1.7" fill="#FFC81F"/>
<circle cx="188.24" cy="209.96" r="1.7" fill="#FFC81F"/>
<circle cx="199.67" cy="208.06" r="1.7" fill="#FFC81F"/>
<circle cx="218.97" cy="208.96" r="1.7" fill="#FFC81F"/>
<circle cx="237.99" cy="202.11" r="1.7" fill="#FFC81F"/>
<path d="M64.2,223.54 C69.83,223.26 88.14,223.51 97.97,221.86 C107.8,220.22 113.47,214.42 123.19,213.68 C132.9,212.94 148.11,217.42 156.26,217.4 C164.42,217.38 166.78,215.19 172.11,213.57 C177.44,211.94 183.64,208.73 188.24,207.65 C192.83,206.58 194.55,206.68 199.67,207.13 C204.8,207.59 212.58,211.62 218.97,210.37 C225.35,209.12 234.82,201.41 237.99,199.62" fill="none" stroke="#5A83CB" stroke-width="1.05" stroke-linejoin="round"/>
<circle cx="64.2" cy="223.54" r="1.7" fill="#5A83CB"/>
<circle cx="97.97" cy="221.86" r="1.7" fill="#5A83CB"/>
<circle cx="123.19" cy="213.68" r="1.7" fill="#5A83CB"/>
<circle cx="156.26" cy="217.4" r="1.7" fill="#5A83CB"/>
<circle cx="172.11" cy="213.57" r="1.7" fill="#5A83CB"/>
<circle cx="188.24" cy="207.65" r="1.7" fill="#5A83CB"/>
<circle cx="199.67" cy="207.13" r="1.7" fill="#5A83CB"/>
<circle cx="218.97" cy="210.37" r="1.7" fill="#5A83CB"/>
<circle cx="237.99" cy="199.62" r="1.7" fill="#5A83CB"/>
<path d="M64.2,228.08 C69.83,227.35 88.14,226.14 97.97,223.72 C107.8,221.31 113.47,215.16 123.19,213.57 C132.9,211.98 148.11,214.62 156.26,214.2 C164.42,213.79 166.78,212.55 172.11,211.08 C177.44,209.6 183.64,206.49 188.24,205.35 C192.83,204.21 194.55,204.39 199.67,204.23 C204.8,204.08 212.58,206.25 218.97,204.42 C225.35,202.59 234.82,195.12 237.99,193.26" fill="none" stroke="#81B75D" stroke-width="1.05" stroke-linejoin="round"/>
<circle cx="64.2" cy="228.08" r="1.7" fill="#81B75D"/>
<circle cx="97.97" cy="223.72" r="1.7" fill="#81B75D"/>
<circle cx="123.19" cy="213.57" r="1.7" fill="#81B75D"/>
<circle cx="156.26" cy="214.2" r="1.7" fill="#81B75D"/>
<circle cx="172.11" cy="211.08" r="1.7" fill="#81B75D"/>
<circle cx="188.24" cy="205.35" r="1.7" fill="#81B75D"/>
<circle cx="199.67" cy="204.23" r="1.7" fill="#81B75D"/>
<circle cx="218.97" cy="204.42" r="1.7" fill="#81B75D"/>
<circle cx="237.99" cy="193.26" r="1.7" fill="#81B75D"/>
<path d="M64.2,231.09 C69.83,230.22 88.14,227.48 97.97,225.84 C107.8,224.21 113.47,222.53 123.19,221.31 C132.9,220.08 148.11,219.27 156.26,218.52 C164.42,217.77 166.78,216.9 172.11,216.8 C177.44,216.71 183.64,217.73 188.24,217.92 C192.83,218.11 194.55,218.08 199.67,217.92 C204.8,217.77 212.58,217.83 218.97,216.99 C225.35,216.15 234.82,213.55 237.99,212.86" fill="none" stroke="#405A88" stroke-width="1.05" stroke-linejoin="round"/>
<circle cx="64.2" cy="231.09" r="1.7" fill="#405A88"/>
<circle cx="97.97" cy="225.84" r="1.7" fill="#405A88"/>
<circle cx="123.19" cy="221.31" r="1.7" fill="#405A88"/>
<circle cx="156.26" cy="218.52" r="1.7" fill="#405A88"/>
<circle cx="172.11" cy="216.8" r="1.7" fill="#405A88"/>
<circle cx="188.24" cy="217.92" r="1.7" fill="#405A88"/>
<circle cx="199.67" cy="217.92" r="1.7" fill="#405A88"/>
<circle cx="218.97" cy="216.99" r="1.7" fill="#405A88"/>
<circle cx="237.99" cy="212.86" r="1.7" fill="#405A88"/>
<path d="M64.2,226.55 C69.83,225.79 88.14,223.72 97.97,222.01 C107.8,220.3 113.47,218.29 123.19,216.28 C132.9,214.28 148.11,211.78 156.26,209.96 C164.42,208.14 166.78,206.4 172.11,205.35 C177.44,204.29 183.64,203.25 188.24,203.64 C192.83,204.02 194.55,206.97 199.67,207.65 C204.8,208.34 212.58,209.52 218.97,207.73 C225.35,205.94 234.82,198.71 237.99,196.9" fill="none" stroke="#AA5E2B" stroke-width="1.05" stroke-linejoin="round"/>
<circle cx="64.2" cy="226.55" r="1.7" fill="#AA5E2B"/>
<circle cx="97.97" cy="222.01" r="1.7" fill="#AA5E2B"/>
<circle cx="123.19" cy="216.28" r="1.7" fill="#AA5E2B"/>
<circle cx="156.26" cy="209.96" r="1.7" fill="#AA5E2B"/>
<circle cx="172.11" cy="205.35" r="1.7" fill="#AA5E2B"/>
<circle cx="188.24" cy="203.64" r="1.7" fill="#AA5E2B"/>
<circle cx="199.67" cy="207.65" r="1.7" fill="#AA5E2B"/>
<circle cx="218.97" cy="207.73" r="1.7" fill="#AA5E2B"/>
<circle cx="237.99" cy="196.9" r="1.7" fill="#AA5E2B"/>
<line x1="51.9" y1="282.3" x2="63.5" y2="282.3" stroke="#6FA7DA" stroke-width="1.0"/>
<circle cx="57.7" cy="282.3" r="1.45" fill="#6FA7DA"/>
<text x="64.7" y="285.7" font-size="9.16" textLength="26.53" lengthAdjust="spacingAndGlyphs">Slice 1</text>
<line x1="93" y1="282.3" x2="104.6" y2="282.3" stroke="#EF8D4A" stroke-width="1.0"/>
<circle cx="98.8" cy="282.3" r="1.45" fill="#EF8D4A"/>
<text x="105.39" y="285.7" font-size="9.16" textLength="26.86" lengthAdjust="spacingAndGlyphs">Slice 2</text>
<line x1="133.8" y1="282.3" x2="145.4" y2="282.3" stroke="#B0B0B0" stroke-width="1.0"/>
<circle cx="139.6" cy="282.3" r="1.45" fill="#B0B0B0"/>
<text x="146.19" y="285.7" font-size="9.16" textLength="27" lengthAdjust="spacingAndGlyphs">Slice 3</text>
<line x1="175" y1="282.3" x2="186.6" y2="282.3" stroke="#FFC81F" stroke-width="1.0"/>
<circle cx="180.8" cy="282.3" r="1.45" fill="#FFC81F"/>
<text x="187.4" y="285.7" font-size="9.16" textLength="26.66" lengthAdjust="spacingAndGlyphs">Slice 4</text>
<line x1="51.9" y1="298.7" x2="63.5" y2="298.7" stroke="#5A83CB" stroke-width="1.0"/>
<circle cx="57.7" cy="298.7" r="1.45" fill="#5A83CB"/>
<text x="64.7" y="301.9" font-size="9.16" textLength="26.47" lengthAdjust="spacingAndGlyphs">Slice 5</text>
<line x1="93" y1="298.7" x2="104.6" y2="298.7" stroke="#81B75D" stroke-width="1.0"/>
<circle cx="98.8" cy="298.7" r="1.45" fill="#81B75D"/>
<text x="105.39" y="301.9" font-size="9.16" textLength="26.8" lengthAdjust="spacingAndGlyphs">Slice 6</text>
<line x1="133.8" y1="298.7" x2="145.4" y2="298.7" stroke="#405A88" stroke-width="1.0"/>
<circle cx="139.6" cy="298.7" r="1.45" fill="#405A88"/>
<text x="146.19" y="301.9" font-size="9.16" textLength="27.06" lengthAdjust="spacingAndGlyphs">Slice 7</text>
<line x1="175" y1="298.7" x2="186.6" y2="298.7" stroke="#AA5E2B" stroke-width="1.0"/>
<circle cx="180.8" cy="298.7" r="1.45" fill="#AA5E2B"/>
<text x="187.39" y="301.9" font-size="9.16" textLength="26.79" lengthAdjust="spacingAndGlyphs">Slice 8</text>
<line x1="310.5" y1="233.5" x2="541.3" y2="233.5" stroke="#E2E2E2" stroke-width="0.9"/>
<line x1="310.5" y1="215.7" x2="541.3" y2="215.7" stroke="#E2E2E2" stroke-width="0.9"/>
<line x1="310.5" y1="197.9" x2="541.3" y2="197.9" stroke="#E2E2E2" stroke-width="0.9"/>
<line x1="310.5" y1="180.1" x2="541.3" y2="180.1" stroke="#E2E2E2" stroke-width="0.9"/>
<line x1="310.5" y1="180.1" x2="310.5" y2="233.5" stroke="#E2E2E2" stroke-width="0.9"/>
<text x="303.2" y="236.3" font-size="8.4" text-anchor="end" textLength="4.21" lengthAdjust="spacingAndGlyphs" class="tk">0</text>
<text x="303.2" y="218.5" font-size="8.4" text-anchor="end" textLength="8.41" lengthAdjust="spacingAndGlyphs" class="tk">20</text>
<text x="303.2" y="200.7" font-size="8.4" text-anchor="end" textLength="8.41" lengthAdjust="spacingAndGlyphs" class="tk">40</text>
<text x="303.2" y="182.9" font-size="8.4" text-anchor="end" textLength="8.41" lengthAdjust="spacingAndGlyphs" class="tk">60</text>
<text x="310.5" y="246.3" font-size="8.4" text-anchor="middle" textLength="4.21" lengthAdjust="spacingAndGlyphs" class="tk">0</text>
<text x="339.35" y="246.3" font-size="8.4" text-anchor="middle" textLength="4.21" lengthAdjust="spacingAndGlyphs" class="tk">2</text>
<text x="368.2" y="246.3" font-size="8.4" text-anchor="middle" textLength="4.21" lengthAdjust="spacingAndGlyphs" class="tk">4</text>
<text x="397.05" y="246.3" font-size="8.4" text-anchor="middle" textLength="4.21" lengthAdjust="spacingAndGlyphs" class="tk">6</text>
<text x="425.9" y="246.3" font-size="8.4" text-anchor="middle" textLength="4.21" lengthAdjust="spacingAndGlyphs" class="tk">8</text>
<text x="454.75" y="246.3" font-size="8.4" text-anchor="middle" textLength="8.41" lengthAdjust="spacingAndGlyphs" class="tk">10</text>
<text x="483.6" y="246.3" font-size="8.4" text-anchor="middle" textLength="8.41" lengthAdjust="spacingAndGlyphs" class="tk">12</text>
<text x="512.45" y="246.3" font-size="8.4" text-anchor="middle" textLength="8.41" lengthAdjust="spacingAndGlyphs" class="tk">14</text>
<text x="541.3" y="246.3" font-size="8.4" text-anchor="middle" textLength="8.41" lengthAdjust="spacingAndGlyphs" class="tk">16</text>
<text x="387.26" y="167.7" font-size="12.21" textLength="47.73" lengthAdjust="spacingAndGlyphs">Contrast</text>
<text x="394.46" y="260.5" font-size="10.76" textLength="63.62" lengthAdjust="spacingAndGlyphs">Time in hours</text>
<text transform="translate(289.6,227.54) rotate(-90)" font-size="10.17" textLength="40.42" lengthAdjust="spacingAndGlyphs">Contrast</text>
<path d="M335.31,219.05 C341.2,219.92 360.36,224.32 370.65,224.32 C380.94,224.32 386.88,221.23 397.05,219.05 C407.22,216.87 423.14,211.47 431.67,211.23 C440.2,211 442.68,216.84 448.26,217.64 C453.84,218.44 460.33,216.55 465.14,216.06 C469.94,215.56 471.75,215.57 477.11,214.66 C482.47,213.75 490.62,210.93 497.3,210.62 C503.99,210.31 513.89,212.44 517.21,212.81" fill="none" stroke="#6FA7DA" stroke-width="1.05" stroke-linejoin="round"/>
<circle cx="335.31" cy="219.05" r="1.7" fill="#6FA7DA"/>
<circle cx="370.65" cy="224.32" r="1.7" fill="#6FA7DA"/>
<circle cx="397.05" cy="219.05" r="1.7" fill="#6FA7DA"/>
<circle cx="431.67" cy="211.23" r="1.7" fill="#6FA7DA"/>
<circle cx="448.26" cy="217.64" r="1.7" fill="#6FA7DA"/>
<circle cx="465.14" cy="216.06" r="1.7" fill="#6FA7DA"/>
<circle cx="477.11" cy="214.66" r="1.7" fill="#6FA7DA"/>
<circle cx="497.3" cy="210.62" r="1.7" fill="#6FA7DA"/>
<circle cx="517.21" cy="212.81" r="1.7" fill="#6FA7DA"/>
<path d="M335.31,218.17 C341.2,219.48 360.36,226.22 370.65,226.08 C380.94,225.93 386.88,221.25 397.05,217.29 C407.22,213.34 423.14,202.65 431.67,202.36 C440.2,202.07 442.68,214.21 448.26,215.53 C453.84,216.85 460.33,211.64 465.14,210.26 C469.94,208.89 471.75,208.53 477.11,207.28 C482.47,206.04 490.62,204.19 497.3,202.79 C503.99,201.4 513.89,199.58 517.21,198.93" fill="none" stroke="#EF8D4A" stroke-width="1.05" stroke-linejoin="round"/>
<circle cx="335.31" cy="218.17" r="1.7" fill="#EF8D4A"/>
<circle cx="370.65" cy="226.08" r="1.7" fill="#EF8D4A"/>
<circle cx="397.05" cy="217.29" r="1.7" fill="#EF8D4A"/>
<circle cx="431.67" cy="202.36" r="1.7" fill="#EF8D4A"/>
<circle cx="448.26" cy="215.53" r="1.7" fill="#EF8D4A"/>
<circle cx="465.14" cy="210.26" r="1.7" fill="#EF8D4A"/>
<circle cx="477.11" cy="207.28" r="1.7" fill="#EF8D4A"/>
<circle cx="497.3" cy="202.79" r="1.7" fill="#EF8D4A"/>
<circle cx="517.21" cy="198.93" r="1.7" fill="#EF8D4A"/>
<path d="M335.31,217.29 C341.2,218.17 360.36,222.86 370.65,222.56 C380.94,222.27 386.88,218.24 397.05,215.53 C407.22,212.82 423.14,206.31 431.67,206.31 C440.2,206.31 442.68,215.46 448.26,215.53 C453.84,215.6 460.33,208.94 465.14,206.75 C469.94,204.55 471.75,204.23 477.11,202.36 C482.47,200.49 490.62,198.59 497.3,195.51 C503.99,192.42 513.89,185.78 517.21,183.83" fill="none" stroke="#B0B0B0" stroke-width="1.05" stroke-linejoin="round"/>
<circle cx="335.31" cy="217.29" r="1.7" fill="#B0B0B0"/>
<circle cx="370.65" cy="222.56" r="1.7" fill="#B0B0B0"/>
<circle cx="397.05" cy="215.53" r="1.7" fill="#B0B0B0"/>
<circle cx="431.67" cy="206.31" r="1.7" fill="#B0B0B0"/>
<circle cx="448.26" cy="215.53" r="1.7" fill="#B0B0B0"/>
<circle cx="465.14" cy="206.75" r="1.7" fill="#B0B0B0"/>
<circle cx="477.11" cy="202.36" r="1.7" fill="#B0B0B0"/>
<circle cx="497.3" cy="195.51" r="1.7" fill="#B0B0B0"/>
<circle cx="517.21" cy="183.83" r="1.7" fill="#B0B0B0"/>
<path d="M335.31,218.17 C341.2,219.34 360.36,225.49 370.65,225.2 C380.94,224.9 386.88,220.04 397.05,216.41 C407.22,212.78 423.14,203.41 431.67,203.41 C440.2,203.41 442.68,214.46 448.26,216.41 C453.84,218.36 460.33,215.48 465.14,215.09 C469.94,214.71 471.75,214.61 477.11,214.12 C482.47,213.64 490.62,214.21 497.3,212.19 C503.99,210.17 513.89,203.7 517.21,202" fill="none" stroke="#FFC81F" stroke-width="1.05" stroke-linejoin="round"/>
<circle cx="335.31" cy="218.17" r="1.7" fill="#FFC81F"/>
<circle cx="370.65" cy="225.2" r="1.7" fill="#FFC81F"/>
<circle cx="397.05" cy="216.41" r="1.7" fill="#FFC81F"/>
<circle cx="431.67" cy="203.41" r="1.7" fill="#FFC81F"/>
<circle cx="448.26" cy="216.41" r="1.7" fill="#FFC81F"/>
<circle cx="465.14" cy="215.09" r="1.7" fill="#FFC81F"/>
<circle cx="477.11" cy="214.12" r="1.7" fill="#FFC81F"/>
<circle cx="497.3" cy="212.19" r="1.7" fill="#FFC81F"/>
<circle cx="517.21" cy="202" r="1.7" fill="#FFC81F"/>
<path d="M335.31,217.73 C341.2,218.91 360.36,225.35 370.65,224.84 C380.94,224.33 386.88,218.87 397.05,214.66 C407.22,210.44 423.14,199.25 431.67,199.55 C440.2,199.84 442.68,213.98 448.26,216.41 C453.84,218.84 460.33,214.68 465.14,214.12 C469.94,213.57 471.75,214 477.11,213.07 C482.47,212.15 490.62,209.14 497.3,208.6 C503.99,208.06 513.89,209.62 517.21,209.83" fill="none" stroke="#5A83CB" stroke-width="1.05" stroke-linejoin="round"/>
<circle cx="335.31" cy="217.73" r="1.7" fill="#5A83CB"/>
<circle cx="370.65" cy="224.84" r="1.7" fill="#5A83CB"/>
<circle cx="397.05" cy="214.66" r="1.7" fill="#5A83CB"/>
<circle cx="431.67" cy="199.55" r="1.7" fill="#5A83CB"/>
<circle cx="448.26" cy="216.41" r="1.7" fill="#5A83CB"/>
<circle cx="465.14" cy="214.12" r="1.7" fill="#5A83CB"/>
<circle cx="477.11" cy="213.07" r="1.7" fill="#5A83CB"/>
<circle cx="497.3" cy="208.6" r="1.7" fill="#5A83CB"/>
<circle cx="517.21" cy="209.83" r="1.7" fill="#5A83CB"/>
<path d="M335.31,219.48 C341.2,221.02 360.36,229.08 370.65,228.71 C380.94,228.35 386.88,220.65 397.05,217.29 C407.22,213.94 423.14,208.74 431.67,208.6 C440.2,208.45 442.68,215.67 448.26,216.41 C453.84,217.16 460.33,214.1 465.14,213.07 C469.94,212.05 471.75,211.49 477.11,210.26 C482.47,209.03 490.62,207.66 497.3,205.7 C503.99,203.74 513.89,199.7 517.21,198.5" fill="none" stroke="#81B75D" stroke-width="1.05" stroke-linejoin="round"/>
<circle cx="335.31" cy="219.48" r="1.7" fill="#81B75D"/>
<circle cx="370.65" cy="228.71" r="1.7" fill="#81B75D"/>
<circle cx="397.05" cy="217.29" r="1.7" fill="#81B75D"/>
<circle cx="431.67" cy="208.6" r="1.7" fill="#81B75D"/>
<circle cx="448.26" cy="216.41" r="1.7" fill="#81B75D"/>
<circle cx="465.14" cy="213.07" r="1.7" fill="#81B75D"/>
<circle cx="477.11" cy="210.26" r="1.7" fill="#81B75D"/>
<circle cx="497.3" cy="205.7" r="1.7" fill="#81B75D"/>
<circle cx="517.21" cy="198.5" r="1.7" fill="#81B75D"/>
<path d="M335.31,217.29 C341.2,218.61 360.36,225.64 370.65,225.2 C380.94,224.76 386.88,218.93 397.05,214.66 C407.22,210.38 423.14,199.49 431.67,199.55 C440.2,199.6 442.68,212.96 448.26,215.01 C453.84,217.06 460.33,212.48 465.14,211.85 C469.94,211.22 471.75,211.67 477.11,211.23 C482.47,210.79 490.62,211.16 497.3,209.21 C503.99,207.26 513.89,201.16 517.21,199.55" fill="none" stroke="#405A88" stroke-width="1.05" stroke-linejoin="round"/>
<circle cx="335.31" cy="217.29" r="1.7" fill="#405A88"/>
<circle cx="370.65" cy="225.2" r="1.7" fill="#405A88"/>
<circle cx="397.05" cy="214.66" r="1.7" fill="#405A88"/>
<circle cx="431.67" cy="199.55" r="1.7" fill="#405A88"/>
<circle cx="448.26" cy="215.01" r="1.7" fill="#405A88"/>
<circle cx="465.14" cy="211.85" r="1.7" fill="#405A88"/>
<circle cx="477.11" cy="211.23" r="1.7" fill="#405A88"/>
<circle cx="497.3" cy="209.21" r="1.7" fill="#405A88"/>
<circle cx="517.21" cy="199.55" r="1.7" fill="#405A88"/>
<path d="M335.31,218.61 C341.2,220.13 360.36,227.9 370.65,227.74 C380.94,227.58 386.88,221.55 397.05,217.64 C407.22,213.73 423.14,205.77 431.67,204.29 C440.2,202.81 442.68,206.48 448.26,208.77 C453.84,211.05 460.33,216.68 465.14,218 C469.94,219.31 471.75,216.9 477.11,216.68 C482.47,216.46 490.62,217.75 497.3,216.68 C503.99,215.61 513.89,211.33 517.21,210.26" fill="none" stroke="#AA5E2B" stroke-width="1.05" stroke-linejoin="round"/>
<circle cx="335.31" cy="218.61" r="1.7" fill="#AA5E2B"/>
<circle cx="370.65" cy="227.74" r="1.7" fill="#AA5E2B"/>
<circle cx="397.05" cy="217.64" r="1.7" fill="#AA5E2B"/>
<circle cx="431.67" cy="204.29" r="1.7" fill="#AA5E2B"/>
<circle cx="448.26" cy="208.77" r="1.7" fill="#AA5E2B"/>
<circle cx="465.14" cy="218" r="1.7" fill="#AA5E2B"/>
<circle cx="477.11" cy="216.68" r="1.7" fill="#AA5E2B"/>
<circle cx="497.3" cy="216.68" r="1.7" fill="#AA5E2B"/>
<circle cx="517.21" cy="210.26" r="1.7" fill="#AA5E2B"/>
<line x1="325.6" y1="280.4" x2="336.6" y2="280.4" stroke="#6FA7DA" stroke-width="1.0"/>
<circle cx="331.1" cy="280.4" r="1.45" fill="#6FA7DA"/>
<text x="338.04" y="283.5" font-size="10.03" textLength="30.25" lengthAdjust="spacingAndGlyphs">Slice 1</text>
<line x1="369.4" y1="280.4" x2="380.4" y2="280.4" stroke="#EF8D4A" stroke-width="1.0"/>
<circle cx="374.9" cy="280.4" r="1.45" fill="#EF8D4A"/>
<text x="382.45" y="283.5" font-size="10.03" textLength="29.44" lengthAdjust="spacingAndGlyphs">Slice 2</text>
<line x1="413.6" y1="280.4" x2="424.6" y2="280.4" stroke="#B0B0B0" stroke-width="1.0"/>
<circle cx="419.1" cy="280.4" r="1.45" fill="#B0B0B0"/>
<text x="425.64" y="283.5" font-size="10.03" textLength="30.1" lengthAdjust="spacingAndGlyphs">Slice 3</text>
<line x1="457.6" y1="280.4" x2="468.6" y2="280.4" stroke="#FFC81F" stroke-width="1.0"/>
<circle cx="463.1" cy="280.4" r="1.45" fill="#FFC81F"/>
<text x="469.54" y="283.5" font-size="10.03" textLength="30.36" lengthAdjust="spacingAndGlyphs">Slice 4</text>
<line x1="325.6" y1="297.5" x2="336.6" y2="297.5" stroke="#5A83CB" stroke-width="1.0"/>
<circle cx="331.1" cy="297.5" r="1.45" fill="#5A83CB"/>
<text x="338.09" y="300.6" font-size="9.01" textLength="27.19" lengthAdjust="spacingAndGlyphs">Slice 5</text>
<line x1="369.7" y1="297.5" x2="380.7" y2="297.5" stroke="#81B75D" stroke-width="1.0"/>
<circle cx="375.2" cy="297.5" r="1.45" fill="#81B75D"/>
<text x="382.25" y="300.6" font-size="10.03" textLength="29.89" lengthAdjust="spacingAndGlyphs">Slice 6</text>
<line x1="413.6" y1="297.5" x2="424.6" y2="297.5" stroke="#405A88" stroke-width="1.0"/>
<circle cx="419.1" cy="297.5" r="1.45" fill="#405A88"/>
<text x="425.64" y="300.6" font-size="10.03" textLength="30.16" lengthAdjust="spacingAndGlyphs">Slice 7</text>
<line x1="457.6" y1="297.5" x2="468.6" y2="297.5" stroke="#AA5E2B" stroke-width="1.0"/>
<circle cx="463.1" cy="297.5" r="1.45" fill="#AA5E2B"/>
<text x="469.54" y="300.6" font-size="10.03" textLength="30.5" lengthAdjust="spacingAndGlyphs">Slice 8</text>
</g>
</svg>
</body></html>
